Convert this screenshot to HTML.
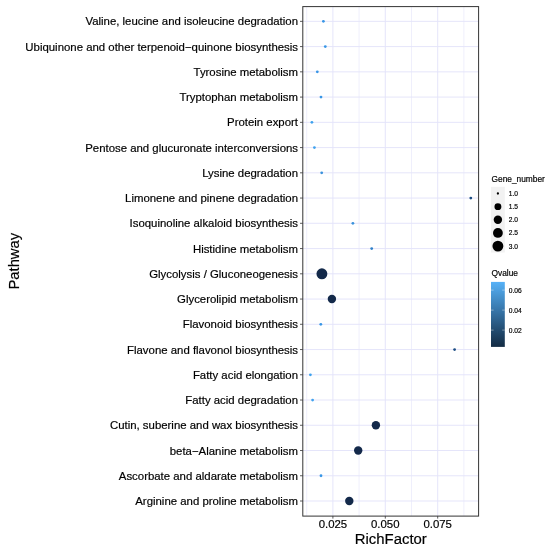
<!DOCTYPE html><html><head><meta charset="utf-8"><title>KEGG enrichment</title>
<style>html,body{margin:0;padding:0;background:#fff}svg{display:block}text{font-family:"Liberation Sans",Arial,Helvetica,sans-serif;fill:#000;stroke:#000;stroke-width:0.18px}</style></head><body>
<svg width="548" height="550" viewBox="0 0 548 550">
<rect width="548" height="550" fill="#fff"/>
<g stroke="#eeeefc" stroke-width="0.95">
<line x1="306.7" y1="6.6" x2="306.7" y2="516.1"/>
<line x1="359.1" y1="6.6" x2="359.1" y2="516.1"/>
<line x1="411.5" y1="6.6" x2="411.5" y2="516.1"/>
<line x1="463.9" y1="6.6" x2="463.9" y2="516.1"/>
</g><g stroke="#e4e4fa" stroke-width="0.95">
<line x1="332.9" y1="6.6" x2="332.9" y2="516.1"/>
<line x1="385.3" y1="6.6" x2="385.3" y2="516.1"/>
<line x1="437.7" y1="6.6" x2="437.7" y2="516.1"/>
<line x1="302.8" y1="21.35" x2="478.6" y2="21.35"/>
<line x1="302.8" y1="46.59" x2="478.6" y2="46.59"/>
<line x1="302.8" y1="71.84" x2="478.6" y2="71.84"/>
<line x1="302.8" y1="97.09" x2="478.6" y2="97.09"/>
<line x1="302.8" y1="122.33" x2="478.6" y2="122.33"/>
<line x1="302.8" y1="147.58" x2="478.6" y2="147.58"/>
<line x1="302.8" y1="172.82" x2="478.6" y2="172.82"/>
<line x1="302.8" y1="198.06" x2="478.6" y2="198.06"/>
<line x1="302.8" y1="223.31" x2="478.6" y2="223.31"/>
<line x1="302.8" y1="248.56" x2="478.6" y2="248.56"/>
<line x1="302.8" y1="273.80" x2="478.6" y2="273.80"/>
<line x1="302.8" y1="299.05" x2="478.6" y2="299.05"/>
<line x1="302.8" y1="324.29" x2="478.6" y2="324.29"/>
<line x1="302.8" y1="349.54" x2="478.6" y2="349.54"/>
<line x1="302.8" y1="374.78" x2="478.6" y2="374.78"/>
<line x1="302.8" y1="400.03" x2="478.6" y2="400.03"/>
<line x1="302.8" y1="425.27" x2="478.6" y2="425.27"/>
<line x1="302.8" y1="450.52" x2="478.6" y2="450.52"/>
<line x1="302.8" y1="475.76" x2="478.6" y2="475.76"/>
<line x1="302.8" y1="501.01" x2="478.6" y2="501.01"/>
</g>
<circle cx="323.4" cy="21.35" r="1.40" fill="#3896e6"/>
<circle cx="325.3" cy="46.59" r="1.40" fill="#3896e6"/>
<circle cx="317.3" cy="71.84" r="1.40" fill="#3896e6"/>
<circle cx="321.0" cy="97.09" r="1.40" fill="#3896e6"/>
<circle cx="311.9" cy="122.33" r="1.40" fill="#3fa2ee"/>
<circle cx="314.4" cy="147.58" r="1.40" fill="#3fa2ee"/>
<circle cx="321.7" cy="172.82" r="1.40" fill="#3a92dc"/>
<circle cx="470.8" cy="198.06" r="1.40" fill="#1b4d82"/>
<circle cx="352.9" cy="223.31" r="1.40" fill="#3a92dc"/>
<circle cx="371.7" cy="248.56" r="1.40" fill="#2f80c9"/>
<circle cx="321.9" cy="273.80" r="5.45" fill="#13294a"/>
<circle cx="331.9" cy="299.05" r="4.20" fill="#13294a"/>
<circle cx="320.8" cy="324.29" r="1.40" fill="#3896e6"/>
<circle cx="454.6" cy="349.54" r="1.40" fill="#1b4d82"/>
<circle cx="310.4" cy="374.78" r="1.40" fill="#3fa2ee"/>
<circle cx="312.6" cy="400.03" r="1.40" fill="#3fa2ee"/>
<circle cx="375.9" cy="425.27" r="4.20" fill="#13294a"/>
<circle cx="358.2" cy="450.52" r="4.20" fill="#13294a"/>
<circle cx="321.0" cy="475.76" r="1.40" fill="#3896e6"/>
<circle cx="349.3" cy="501.01" r="4.20" fill="#13294a"/>
<rect x="302.8" y="6.6" width="175.8" height="509.5" fill="none" stroke="#333" stroke-width="1.0"/>
<g stroke="#333" stroke-width="0.8">
<line x1="300" y1="21.35" x2="302.8" y2="21.35"/>
<line x1="300" y1="46.59" x2="302.8" y2="46.59"/>
<line x1="300" y1="71.84" x2="302.8" y2="71.84"/>
<line x1="300" y1="97.09" x2="302.8" y2="97.09"/>
<line x1="300" y1="122.33" x2="302.8" y2="122.33"/>
<line x1="300" y1="147.58" x2="302.8" y2="147.58"/>
<line x1="300" y1="172.82" x2="302.8" y2="172.82"/>
<line x1="300" y1="198.06" x2="302.8" y2="198.06"/>
<line x1="300" y1="223.31" x2="302.8" y2="223.31"/>
<line x1="300" y1="248.56" x2="302.8" y2="248.56"/>
<line x1="300" y1="273.80" x2="302.8" y2="273.80"/>
<line x1="300" y1="299.05" x2="302.8" y2="299.05"/>
<line x1="300" y1="324.29" x2="302.8" y2="324.29"/>
<line x1="300" y1="349.54" x2="302.8" y2="349.54"/>
<line x1="300" y1="374.78" x2="302.8" y2="374.78"/>
<line x1="300" y1="400.03" x2="302.8" y2="400.03"/>
<line x1="300" y1="425.27" x2="302.8" y2="425.27"/>
<line x1="300" y1="450.52" x2="302.8" y2="450.52"/>
<line x1="300" y1="475.76" x2="302.8" y2="475.76"/>
<line x1="300" y1="501.01" x2="302.8" y2="501.01"/>
<line x1="332.9" y1="516.1" x2="332.9" y2="518.6"/>
<line x1="385.3" y1="516.1" x2="385.3" y2="518.6"/>
<line x1="437.7" y1="516.1" x2="437.7" y2="518.6"/>
</g>
<g font-size="11.4" text-anchor="end">
<text x="298" y="25.45">Valine, leucine and isoleucine degradation</text>
<text x="298" y="50.70">Ubiquinone and other terpenoid−quinone biosynthesis</text>
<text x="298" y="75.94">Tyrosine metabolism</text>
<text x="298" y="101.19">Tryptophan metabolism</text>
<text x="298" y="126.43">Protein export</text>
<text x="298" y="151.68">Pentose and glucuronate interconversions</text>
<text x="298" y="176.92">Lysine degradation</text>
<text x="298" y="202.16">Limonene and pinene degradation</text>
<text x="298" y="227.41">Isoquinoline alkaloid biosynthesis</text>
<text x="298" y="252.66">Histidine metabolism</text>
<text x="298" y="277.90">Glycolysis / Gluconeogenesis</text>
<text x="298" y="303.15">Glycerolipid metabolism</text>
<text x="298" y="328.39">Flavonoid biosynthesis</text>
<text x="298" y="353.64">Flavone and flavonol biosynthesis</text>
<text x="298" y="378.88">Fatty acid elongation</text>
<text x="298" y="404.13">Fatty acid degradation</text>
<text x="298" y="429.37">Cutin, suberine and wax biosynthesis</text>
<text x="298" y="454.62">beta−Alanine metabolism</text>
<text x="298" y="479.86">Ascorbate and aldarate metabolism</text>
<text x="298" y="505.11">Arginine and proline metabolism</text>
</g>
<g font-size="11.4" text-anchor="middle">
<text x="332.9" y="528.3">0.025</text>
<text x="385.3" y="528.3">0.050</text>
<text x="437.7" y="528.3">0.075</text>
</g>
<text x="390.8" y="543.8" font-size="14.9" text-anchor="middle">RichFactor</text>
<text transform="translate(18.9,261.2) rotate(-90)" font-size="14.8" text-anchor="middle">Pathway</text>
<text x="491.5" y="181.9" font-size="8.35" stroke="none">Gene_number</text>
<rect x="491" y="186.8" width="13.8" height="65.7" fill="#f2f2f2"/>
<circle cx="497.9" cy="193.50" r="1.15" fill="#000"/>
<text x="508.8" y="195.90" font-size="6.65" stroke-width="0.08">1.0</text>
<circle cx="497.9" cy="206.65" r="3.45" fill="#000"/>
<text x="508.8" y="209.05" font-size="6.65" stroke-width="0.08">1.5</text>
<circle cx="497.9" cy="219.80" r="4.20" fill="#000"/>
<text x="508.8" y="222.20" font-size="6.65" stroke-width="0.08">2.0</text>
<circle cx="497.9" cy="232.95" r="4.90" fill="#000"/>
<text x="508.8" y="235.35" font-size="6.65" stroke-width="0.08">2.5</text>
<circle cx="497.9" cy="246.10" r="5.45" fill="#000"/>
<text x="508.8" y="248.50" font-size="6.65" stroke-width="0.08">3.0</text>
<defs><linearGradient id="q" x1="0" y1="1" x2="0" y2="0"><stop offset="0" stop-color="#132B43"/><stop offset="0.25" stop-color="#224B6F"/><stop offset="0.5" stop-color="#336D9E"/><stop offset="0.75" stop-color="#448FCA"/><stop offset="1" stop-color="#56B1F7"/></linearGradient></defs>
<text x="491.5" y="276.4" font-size="8.35" stroke="none">Qvalue</text>
<rect x="491" y="281.9" width="13.8" height="65" fill="url(#q)"/>
<g stroke="#fff" stroke-width="0.5" stroke-opacity="0.8">
<line x1="491" y1="290.1" x2="493.6" y2="290.1"/><line x1="502.2" y1="290.1" x2="504.8" y2="290.1"/>
<line x1="491" y1="310.1" x2="493.6" y2="310.1"/><line x1="502.2" y1="310.1" x2="504.8" y2="310.1"/>
<line x1="491" y1="330.1" x2="493.6" y2="330.1"/><line x1="502.2" y1="330.1" x2="504.8" y2="330.1"/>
</g>
<text x="508.8" y="292.50" font-size="6.65" stroke-width="0.08">0.06</text>
<text x="508.8" y="312.50" font-size="6.65" stroke-width="0.08">0.04</text>
<text x="508.8" y="332.50" font-size="6.65" stroke-width="0.08">0.02</text>
</svg></body></html>
